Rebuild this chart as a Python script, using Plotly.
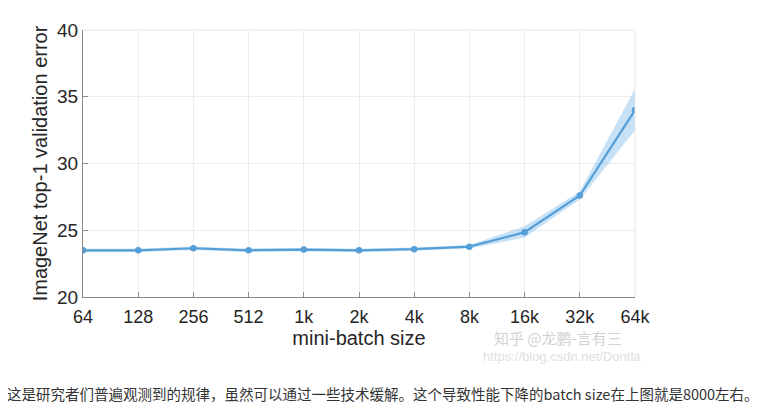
import plotly.graph_objects as go

batch_labels = ["64", "128", "256", "512", "1k", "2k", "4k", "8k", "16k", "32k", "64k"]
error_mean = [23.5, 23.5, 23.65, 23.5, 23.55, 23.5, 23.58, 23.77, 24.85, 27.6, 34.0]
error_upper = [23.62, 23.62, 23.78, 23.62, 23.67, 23.62, 23.7, 23.9, 25.3, 27.9, 35.6]
error_lower = [23.38, 23.38, 23.52, 23.38, 23.43, 23.38, 23.46, 23.64, 24.45, 27.3, 32.5]

y_ticks = [20, 25, 30, 35, 40]

caption = "这是研究者们普遍观测到的规律，虽然可以通过一些技术缓解。这个导致性能下降的batch size在上图就是8000左右。"

blue = "#559fd8"
band = "rgba(130,188,235,0.45)"

fig = go.Figure()
fig.add_trace(go.Scatter(
    x=batch_labels, y=error_upper, mode="lines",
    line=dict(width=0), hoverinfo="skip", showlegend=False
))
fig.add_trace(go.Scatter(
    x=batch_labels, y=error_lower, mode="lines",
    line=dict(width=0), fill="tonexty", fillcolor=band,
    hoverinfo="skip", showlegend=False
))
fig.add_trace(go.Scatter(
    x=batch_labels, y=error_mean, mode="lines+markers",
    line=dict(color=blue, width=2.2),
    marker=dict(color=blue, size=6.5),
    showlegend=False
))

fig.update_layout(
    width=781, height=419,
    margin=dict(l=75, r=154, t=17, b=130),
    paper_bgcolor="white", plot_bgcolor="white",
    font=dict(family="Liberation Sans, Arial, sans-serif", color="#262626"),
    xaxis=dict(
        type="category", range=[0, 10],
        showgrid=True, gridcolor="#ececec", gridwidth=1,
        showline=True, linecolor="#8a8a8a", linewidth=1,
        ticks="inside", ticklen=5, tickcolor="#8a8a8a",
        tickfont=dict(size=18, color="#262626"),
        ticklabelstandoff=3,
        title=dict(text="mini-batch size", font=dict(size=20, color="#262626"), standoff=5),
        zeroline=False,
    ),
    yaxis=dict(
        range=[20, 40], tickvals=y_ticks,
        showgrid=True, gridcolor="#ececec", gridwidth=1,
        showline=True, linecolor="#8a8a8a", linewidth=1,
        ticks="inside", ticklen=5, tickcolor="#8a8a8a",
        tickfont=dict(size=19, color="#262626"),
        title=dict(text="ImageNet top-1 validation error", font=dict(size=20, color="#262626"), standoff=4),
        zeroline=False,
    ),
    shapes=[
        dict(type="line", xref="paper", yref="paper", x0=0, x1=1, y0=1, y1=1,
             line=dict(color="#e6e6e6", width=1)),
        dict(type="line", xref="paper", yref="paper", x0=1, x1=1, y0=0, y1=1,
             line=dict(color="#e6e6e6", width=1)),
    ],
    annotations=[
        dict(text="知乎 @龙鹏-言有三", xref="paper", yref="paper", x=0.861, y=-0.15,
             xanchor="center", yanchor="middle", showarrow=False, borderpad=0,
             font=dict(family="Noto Sans CJK SC", size=15, color="#d2d2d2")),
        dict(text="https://blog.csdn.net/Dontla", xref="paper", yref="paper", x=0.868, y=-0.222,
             xanchor="center", yanchor="middle", showarrow=False, borderpad=0,
             font=dict(family="Liberation Sans", size=13, color="#e0e0e0")),
        dict(text=caption, xref="paper", yref="paper", x=0.544, y=-0.36,
             xanchor="center", yanchor="middle", showarrow=False,
             font=dict(family="Noto Sans CJK SC", size=14.5, color="#333333")),
    ],
)

fig.write_html("out.html")
